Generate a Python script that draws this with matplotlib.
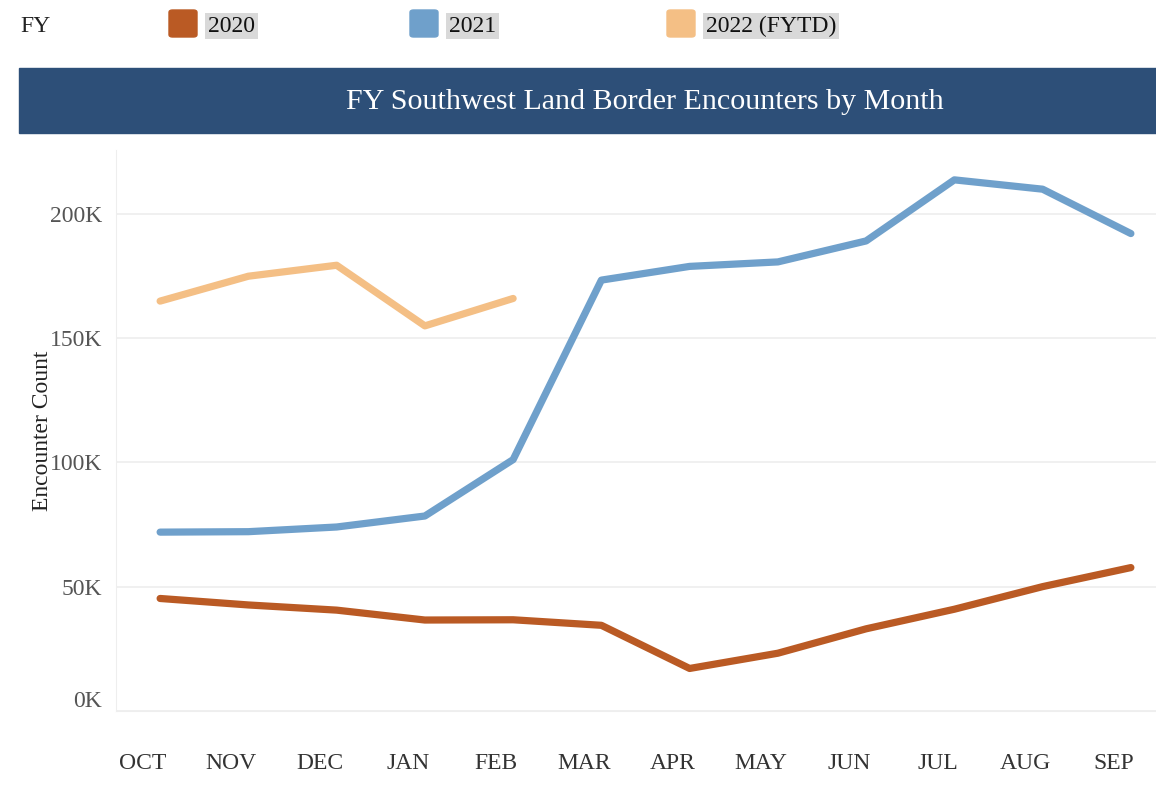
import matplotlib
matplotlib.use("Agg")
import matplotlib.pyplot as plt
import matplotlib.transforms as mtransforms
from matplotlib.patches import FancyBboxPatch, Rectangle
from matplotlib.ticker import FuncFormatter

months = ["OCT", "NOV", "DEC", "JAN", "FEB", "MAR", "APR", "MAY", "JUN", "JUL", "AUG", "SEP"]
fy2020 = [45250, 42643, 40565, 36585, 36687, 34460, 17106, 23237, 33049, 40929, 50014, 57674]
fy2021 = [71929, 72113, 73994, 78414, 101099, 173277, 178795, 180597, 189034, 213593, 209840, 192001]
fy2022 = [164837, 174845, 179253, 154874, 165894]
y_ticks = [0, 50000, 100000, 150000, 200000]
series_labels = ["2020", "2021", "2022 (FYTD)"]
colors = ["#BA5A24", "#6FA0CB", "#F4BF85"]
title = "FY Southwest Land Border Encounters by Month"

W, H = 1156, 796
fig = plt.figure(figsize=(W / 100, H / 100), dpi=100)
serif = ["Liberation Serif", "DejaVu Serif"]

def fx(px):
    return px / W

def fy(py):
    return 1 - py / H

# plot axes: x from 116 to 1175 px, y from 150 to 711 px
ax = fig.add_axes([fx(116), fy(711), fx(1175 - 116), (711 - 150) / H])
x = list(range(len(months)))
for vals, c in zip([fy2020, fy2021, fy2022], colors):
    ax.plot(x[:len(vals)], vals, color=c, lw=5.2, solid_capstyle="round", solid_joinstyle="round", zorder=3)

ax.set_xlim(-0.5, 11.5)
ax.set_ylim(0, 225600)
ax.set_yticks(y_ticks)
ax.yaxis.set_major_formatter(FuncFormatter(lambda v, p: f"{int(v/1000)}K"))
ax.grid(axis="y", color="#eeeeee", lw=1.2, zorder=0)
for s in ["top", "right"]:
    ax.spines[s].set_visible(False)
ax.spines["left"].set_color("#eeeeee")
ax.spines["bottom"].set_color("#eeeeee")
ax.tick_params(axis="y", length=0, pad=10, labelsize=17, labelcolor="#555555")
ax.tick_params(axis="x", length=0, pad=30, labelsize=17, labelcolor="#333333")
ax.set_xticks(x)
ax.set_xticklabels(months)
for lab in ax.get_xticklabels() + ax.get_yticklabels():
    lab.set_family(serif)
# month labels sit a little left of their points
shift = mtransforms.ScaledTranslation(-17 / 100, 0, fig.dpi_scale_trans)
for lab in ax.get_xticklabels():
    lab.set_transform(lab.get_transform() + shift)
# bottom y label raised above the baseline
ylabs = ax.get_yticklabels()
up = mtransforms.ScaledTranslation(0, 12 / 100, fig.dpi_scale_trans)
ylabs[0].set_transform(ylabs[0].get_transform() + up)
ax.set_ylabel("Encounter Count", fontsize=17, family=serif, color="#222222")
ax.yaxis.set_label_coords((53 - 116) / (1175 - 116), 0.5)

# title bar
fig.patches.append(Rectangle((fx(19), fy(133)), fx(1156 - 19), (133 - 68) / H,
                             transform=fig.transFigure, color="#2D4F78", zorder=0))
fig.text(fx(645), fy(102), title, ha="center", va="center", color="white",
         fontsize=21.6, family=serif)

# legend row
fig.text(fx(20), fy(26), "FY", ha="left", va="center", fontsize=17, family=serif, color="#222222")
lx = [169, 410, 667]
for xx, lab, c in zip(lx, series_labels, colors):
    fig.patches.append(FancyBboxPatch((fx(xx), fy(37)), fx(28), 27 / H,
                                      boxstyle="round,pad=0,rounding_size=0.003",
                                      transform=fig.transFigure, color=c))
    fig.text(fx(xx + 39), fy(26), lab, ha="left", va="center", fontsize=17, family=serif,
             color="#111111",
             bbox=dict(boxstyle="square,pad=0.12", fc="#d9d9d9", ec="none"))

fig.savefig("out.png", dpi=100)
